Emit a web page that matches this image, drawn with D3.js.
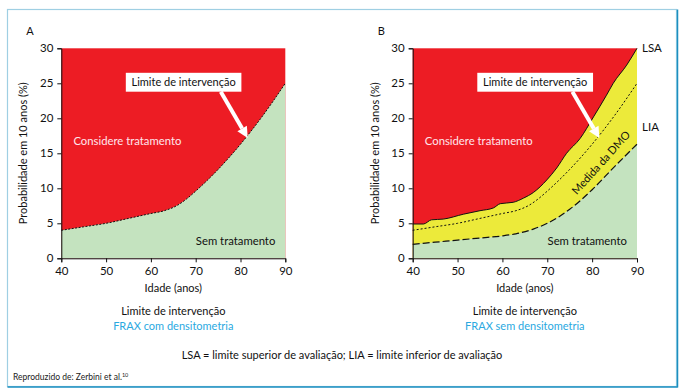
<!DOCTYPE html>
<html><head><meta charset="utf-8">
<script src="https://cdn.jsdelivr.net/npm/d3@7"></script>
<style>body{margin:0;background:#fff}svg{display:block;font-family:Lato,"Open Sans",sans-serif}</style>
</head><body><svg id="c" width="684" height="390"></svg>
<script>
const ages = [40,45,50,55,60,63,66,68,70,75,80,85,90];
const interv = [4.0,4.5,5.0,5.7,6.4,6.8,7.6,8.5,9.6,12.7,16.3,20.4,25.0];
const lsaAges = [40,42.4,44.2,46.8,51.3,55,58,59.5,62.4,64.7,66.9,69.9,72.1,74.3,77.3,80.3,83.2,84.7,87.7,90];
const lsaVals = [4.9,4.9,5.5,5.6,6.3,6.8,7.2,7.8,8.0,8.6,9.4,11.2,12.9,15.0,17.1,20.2,23.3,25.0,27.6,30.0];
const liaAges = [40,45,50,55,60,63,67,70,75,80,85,90];
const liaVals = [2.0,2.3,2.6,2.9,3.2,3.5,4.2,5.0,7.0,9.8,13.1,16.3];
const xTicks = [40,50,60,70,80,90];
const yTicks = [0,5,10,15,20,25,30];

const RED="#ed1c24", GREEN="#c4e3bf", YELLOW="#ecea3a", BLUE="#2aa9df";
const svg = d3.select("#c");
// frame
svg.append("rect").attr("x",7.5).attr("y",9.5).attr("width",669).attr("height",377).attr("fill","none").attr("stroke","#9fcfe3").attr("stroke-width",1.2);
svg.append("line").attr("x1",677.5).attr("x2",677.5).attr("y1",9.5).attr("y2",387.5).attr("stroke","#1b8fc0").attr("stroke-width",1.5);
svg.append("line").attr("x1",7.5).attr("x2",677.5).attr("y1",387).attr("y2",387).attr("stroke","#1b8fc0").attr("stroke-width",1.5);

function panel(x0, x1, letter, kind){
  const x = d3.scaleLinear().domain([40,90]).range([x0,x1]);
  const y = d3.scaleLinear().domain([0,30]).range([258.3,48.3]);
  const g = svg.append("g");
  const thr = ages.map((a,i)=>[a,interv[i]]);
  const ln = d3.line().x(d=>x(d[0])).y(d=>y(d[1])).curve(d3.curveMonotoneX);
  const area = (pts)=> d3.area().x(d=>x(d[0])).y0(y(0)).y1(d=>y(d[1])).curve(d3.curveMonotoneX)(pts);
  g.append("rect").attr("x",x(40)).attr("y",y(30)).attr("width",x(90)-x(40)).attr("height",y(0)-y(30)).attr("fill",RED);
  if(kind==="A"){
    g.append("path").attr("d",area(thr)).attr("fill",GREEN);
    g.append("path").attr("d",ln(thr)).attr("fill","none").attr("stroke","#111").attr("stroke-width",1).attr("stroke-dasharray","2,1.5");
  } else {
    const lsa = lsaAges.map((a,i)=>[a,lsaVals[i]]);
    const lia = liaAges.map((a,i)=>[a,liaVals[i]]);
    g.append("path").attr("d",area(lsa)).attr("fill",YELLOW);
    g.append("path").attr("d",area(lia)).attr("fill",GREEN);
    g.append("path").attr("d",ln(lsa)).attr("fill","none").attr("stroke","#111").attr("stroke-width",1);
    g.append("path").attr("d",ln(thr)).attr("fill","none").attr("stroke","#111").attr("stroke-width",1).attr("stroke-dasharray","2,2");
    g.append("path").attr("d",ln(lia)).attr("fill","none").attr("stroke","#111").attr("stroke-width",1.2).attr("stroke-dasharray","7,3");
    g.append("text").attr("x",x(90)+5).attr("y",y(30)+4).attr("font-size",11.5).attr("fill","#111").text("LSA");
    g.append("text").attr("x",x(90)+5).attr("y",y(16.3)-13).attr("font-size",11.5).attr("fill","#111").text("LIA");
    g.append("text").attr("transform",`translate(${x(82.6)},${y(13.3)}) rotate(-48)`).attr("text-anchor","middle").attr("font-size",11).attr("fill","#111").text("Medida da DMO");
  }
  // axes
  const ax = g.append("g").attr("transform",`translate(0,${y(0)})`).call(d3.axisBottom(x).tickValues(xTicks).tickSize(4).tickSizeOuter(4));
  const ay = g.append("g").attr("transform",`translate(${x(40)},0)`).call(d3.axisLeft(y).tickValues(yTicks).tickSize(4).tickSizeOuter(4));
  [ax,ay].forEach(a=>{a.selectAll("text").attr("font-size",11.5).attr("font-family","Lato,sans-serif").attr("fill","#111");a.select(".domain").attr("stroke","#111");a.selectAll("line").attr("stroke","#111");});
  ay.selectAll("text").attr("dx",-1);
  ax.selectAll("text").attr("dy","0.85em");
  const cx = (x0+x1)/2;
  g.append("text").attr("x",cx).attr("y",292).attr("text-anchor","middle").attr("font-size",11).attr("fill","#111").text("Idade (anos)");
  g.append("text").attr("transform",`translate(${x0-34},${y(15)}) rotate(-90)`).attr("text-anchor","middle").attr("font-size",11).attr("fill","#111").text("Probabilidade em 10 anos (%)");
  g.append("text").attr("x",x0-35).attr("y",35).attr("font-size",11).attr("fill","#111").text(letter);
  g.append("text").attr("x",x(42.7)).attr("y",y(16.2)).attr("font-size",11.3).attr("fill","#ffe6ec").text("Considere tratamento");
  g.append("text").attr("x",x(90)-10).attr("y",y(1.9)).attr("text-anchor","end").attr("font-size",11.3).attr("fill","#111").text("Sem tratamento");
  // callout
  const bx0 = x(54.4), bx1 = x(80.2), by0 = y(26.5), by1 = y(23.8);
  g.append("rect").attr("x",bx0).attr("y",by0).attr("width",bx1-bx0).attr("height",by1-by0).attr("fill","#fff");
  g.append("text").attr("x",(bx0+bx1)/2).attr("y",(by0+by1)/2+4).attr("text-anchor","middle").attr("font-size",11).attr("fill","#111").text("Limite de intervenção");
  const sx = x(75.6), sy = by1, tx = x(81.6), ty = y(17.2);
  const ang = Math.atan2(ty-sy, tx-sx), hl=11, hw=5.5;
  const bxp = tx - hl*Math.cos(ang), byp = ty - hl*Math.sin(ang);
  g.append("line").attr("x1",sx).attr("y1",sy).attr("x2",bxp).attr("y2",byp).attr("stroke","#fff").attr("stroke-width",4);
  const px = -Math.sin(ang), py = Math.cos(ang);
  g.append("path").attr("d",`M${tx},${ty}L${bxp+px*hw},${byp+py*hw}L${bxp-px*hw},${byp-py*hw}Z`).attr("fill","#fff");
  g.append("text").attr("x",cx).attr("y",315).attr("text-anchor","middle").attr("font-size",11).attr("fill","#111").text("Limite de intervenção");
  g.append("text").attr("x",cx).attr("y",330).attr("text-anchor","middle").attr("font-size",11).attr("fill",BLUE).text(kind==="A"?"FRAX com densitometria":"FRAX sem densitometria");
}
panel(61.3, 285.3, "A", "A");
panel(412.7, 637, "B", "B");
svg.append("text").attr("x",342).attr("y",359).attr("text-anchor","middle").attr("font-size",11).attr("fill","#111").text("LSA = limite superior de avaliação; LIA = limite inferior de avaliação");
const t = svg.append("text").attr("x",13).attr("y",380).attr("font-size",8.5).attr("fill","#222").text("Reproduzido de: Zerbini et al.");
t.append("tspan").attr("font-size",5.5).attr("dy",-3.5).text("10");
</script></body></html>
